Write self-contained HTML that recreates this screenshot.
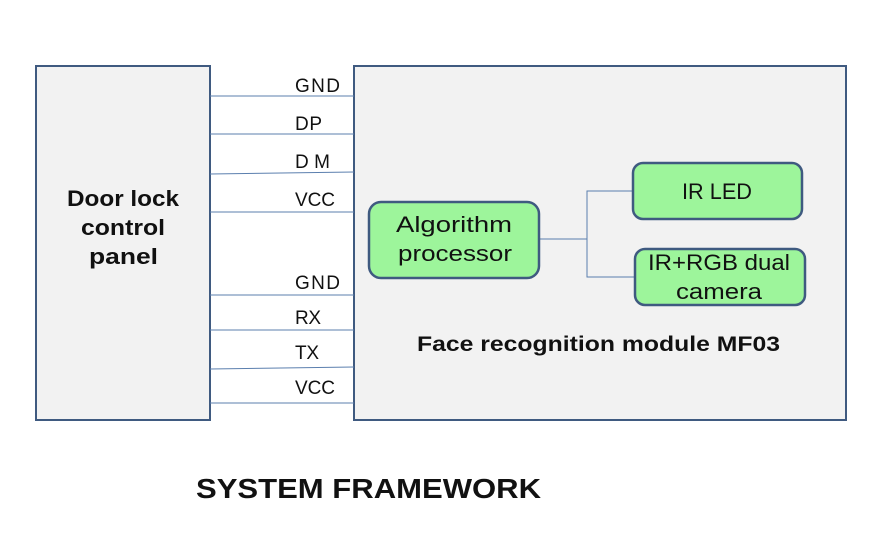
<!DOCTYPE html>
<html><head><style>
body{margin:0;background:#fff;}
svg text{font-family:"Liberation Sans",sans-serif;}
</style></head><body>
<svg width="894" height="540" xmlns="http://www.w3.org/2000/svg">
<rect x="0" y="0" width="894" height="540" fill="#fff"/>
<rect x="36" y="66" width="174" height="354" fill="#f2f2f2" stroke="#3f5a80" stroke-width="2"/>
<rect x="354" y="66" width="492" height="354" fill="#f2f2f2" stroke="#3f5a80" stroke-width="2"/>
<g stroke="#5b7fae" stroke-width="1">
<line x1="210" y1="96" x2="354" y2="96"/>
<line x1="210" y1="134" x2="354" y2="134"/>
<line x1="210" y1="174" x2="354" y2="172"/>
<line x1="210" y1="212" x2="354" y2="212"/>
<line x1="210" y1="295" x2="354" y2="295"/>
<line x1="210" y1="330" x2="354" y2="330"/>
<line x1="210" y1="369" x2="354" y2="367"/>
<line x1="210" y1="403" x2="354" y2="403"/>
<polyline points="539,239 587,239" fill="none"/>
<polyline points="633,191 587,191 587,277 635,277" fill="none"/>
</g>
<g font-size="19" fill="#111" lengthAdjust="spacingAndGlyphs">
<text x="295" y="92" textLength="45">GND</text>
<text x="295" y="130" textLength="27">DP</text>
<text x="295" y="168" textLength="35">DM</text>
<text x="295" y="206" textLength="40">VCC</text>
<text x="295" y="289" textLength="45">GND</text>
<text x="295" y="324" textLength="26">RX</text>
<text x="295" y="359" textLength="24">TX</text>
<text x="295" y="394" textLength="40">VCC</text>
</g>
<g font-size="22" font-weight="bold" fill="#111">
<text x="67" y="206" textLength="112" lengthAdjust="spacingAndGlyphs">Door lock</text>
<text x="81" y="235" textLength="84" lengthAdjust="spacingAndGlyphs">control</text>
<text x="89" y="264" textLength="69" lengthAdjust="spacingAndGlyphs">panel</text>
</g>
<g fill="#9df59b" stroke="#3f5a80" stroke-width="2.5">
<rect x="369" y="202" width="170" height="76" rx="12"/>
<rect x="633" y="163" width="169" height="56" rx="10"/>
<rect x="635" y="249" width="170" height="56" rx="10"/>
</g>
<g font-size="22" fill="#111">
<text x="396" y="232" textLength="116" lengthAdjust="spacingAndGlyphs">Algorithm</text>
<text x="398" y="261" textLength="114" lengthAdjust="spacingAndGlyphs">processor</text>
<text x="682" y="199" textLength="70" lengthAdjust="spacingAndGlyphs">IR LED</text>
<text x="648" y="270" textLength="142" lengthAdjust="spacingAndGlyphs">IR+RGB dual</text>
<text x="676" y="299" textLength="86" lengthAdjust="spacingAndGlyphs">camera</text>
</g>
<text x="417" y="351" font-size="21" font-weight="bold" fill="#111" textLength="363" lengthAdjust="spacingAndGlyphs">Face recognition module MF03</text>
<text x="196" y="498" font-size="28" font-weight="bold" fill="#111" textLength="345" lengthAdjust="spacingAndGlyphs">SYSTEM FRAMEWORK</text>
</svg>
</body></html>
